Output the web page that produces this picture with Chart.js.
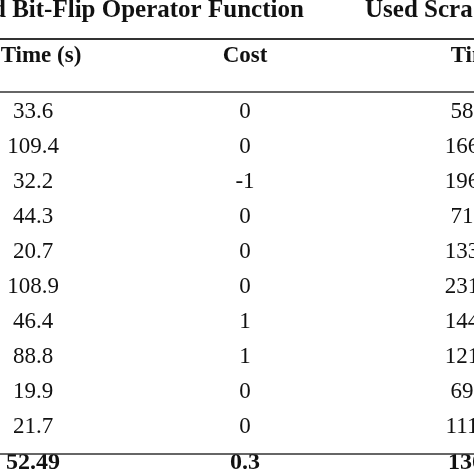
<!DOCTYPE html>
<html><head><meta charset="utf-8">
<script src="https://cdn.jsdelivr.net/npm/chart.js@4"></script>
<style>html,body{margin:0;padding:0;background:#fff}#w{width:474px;height:474px}</style>
</head><body><div id="w"><canvas id="c"></canvas></div>
<script>
const groupHeaders = ["d Bit-Flip Operator Function", "Used Scra"];
const columnHeaders = ["Time (s)", "Cost", "Time"];
const timeValues = ["33.6","109.4","32.2","44.3","20.7","108.9","46.4","88.8","19.9","21.7"];
const costValues = ["0","0","-1","0","0","0","1","1","0","0"];
const scrambleTimes = ["58","166","196","71","133","231","144","121","69","111"];
const totals = ["52.49","0.3","130"];

const colX = [33, 245, 462];
const rowY = i => 112 + i * 35;

const tablePlugin = {
  id: 'table',
  afterDraw(chart) {
    const {ctx, scales:{x, y}} = chart;
    const X = v => x.getPixelForValue(v), Y = v => y.getPixelForValue(v);
    ctx.save();
    ctx.fillStyle = '#111'; ctx.textBaseline = 'middle';
    ctx.font = 'bold 25px "Liberation Serif"';
    ctx.textAlign = 'left';
    ctx.fillText(groupHeaders[0], X(-8), Y(11));
    ctx.fillText(groupHeaders[1], X(365), Y(11));
    ctx.font = 'bold 23px "Liberation Serif"';
    ctx.textAlign = 'center';
    columnHeaders.forEach((h, i) => ctx.fillText(h, X(colX[i] + (i===0?8:i===2?14:0)), Y(56)));
    ctx.font = '23px "Liberation Serif"';
    [timeValues, costValues, scrambleTimes].forEach((col, c) =>
      col.forEach((v, r) => ctx.fillText(v, X(colX[c]), Y(rowY(r)))));
    ctx.font = 'bold 24px "Liberation Serif"';
    totals.forEach((v, c) => ctx.fillText(v, X(colX[c] + (c===2?4:0)), Y(463)));
    ctx.strokeStyle = '#333';
    [[39,2],[92,1.5],[454,1.5]].forEach(([yy, w]) => {
      ctx.lineWidth = w; ctx.beginPath(); ctx.moveTo(X(0), Y(yy)); ctx.lineTo(X(474), Y(yy)); ctx.stroke();
    });
    ctx.restore();
  }
};

new Chart(document.getElementById('c'), {
  type: 'scatter',
  data: { datasets: [{ data: timeValues.map((v, i) => ({x: colX[0], y: rowY(i)})), pointRadius: 0 }] },
  options: {
    responsive: true, maintainAspectRatio: false, animation: false,
    layout: { padding: 0 },
    plugins: { legend: {display:false}, tooltip: {enabled:false} },
    scales: {
      x: { type:'linear', min:0, max:474, display:false },
      y: { type:'linear', min:0, max:474, reverse:true, display:false }
    }
  },
  plugins: [tablePlugin]
});
</script></body></html>
